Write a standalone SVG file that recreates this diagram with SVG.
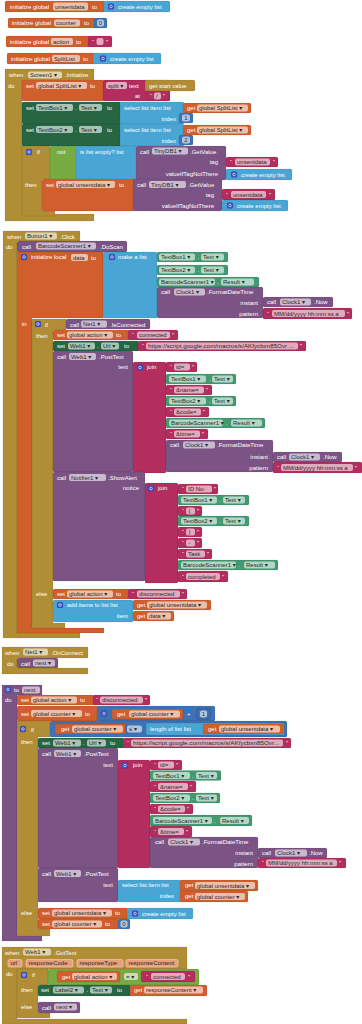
<svg xmlns="http://www.w3.org/2000/svg" xmlns:xlink="http://www.w3.org/1999/xlink" width="362" height="1024" viewBox="0 0 362 1024">
<style>
.o{fill:#D05F2D}.lb{fill:#49A6D4}.m{fill:#B32D5E}.g{fill:#B18E35}.dg{fill:#266643}.gg{fill:#439970}.p{fill:#7C5385}.nb{fill:#3F71B5}.lg{fill:#77AB41}
rect,path{stroke:#000;stroke-opacity:.18;stroke-width:.4}
rect{rx:1.5px}
.f{fill:#fff;fill-opacity:.6;stroke:none;rx:2px}
text{font-family:"Liberation Sans",Arial,"DejaVu Sans",sans-serif;font-size:6px;fill:#fff}
.d{fill:#2a2a2a}
.e{text-anchor:end}
.pp{fill:#E7A07C;stroke:#f6d5c4;stroke-width:.6;stroke-opacity:1}
</style>
<defs>
<g id="gear"><rect width="6" height="6" rx="1" fill="#3d4fc4" stroke="#fff" stroke-width=".6" stroke-opacity="1"/><circle cx="3" cy="3" r="1.3" fill="none" stroke="#fff" stroke-width=".6"/></g>
</defs>

<g id="init-unsentdata">
<rect class="o" x="5" y="1" width="100" height="11"/>
<text x="10" y="8.5">initialize global</text>
<rect class="f" x="53" y="2.5" width="35" height="8"/><text class="d" x="55" y="8.5">unsentdata</text>
<text x="92" y="8.5">to</text>
<rect class="lb" x="104" y="1" width="66" height="11"/>
<use xlink:href="#gear" x="108" y="3.5"/>
<text x="118" y="8.5">create empty list</text>
</g>

<g id="init-counter">
<rect class="o" x="8" y="18" width="88" height="10"/>
<text x="12" y="25.2">initialize global</text>
<rect class="f" x="54" y="19.5" width="26" height="7"/><text class="d" x="56" y="25.2">counter</text>
<text x="84" y="25.2">to</text>
<rect class="nb" x="94" y="18" width="13" height="10"/>
<rect class="f" x="97" y="19.5" width="7" height="7"/><text class="d" x="98.8" y="25.2">0</text>
</g>

<g id="init-action">
<rect class="o" x="6" y="36" width="84" height="11"/>
<text x="10" y="43.5">initialize global</text>
<rect class="f" x="51" y="38" width="22" height="7"/><text class="d" x="53" y="43.5">action</text>
<text x="76" y="43.5">to</text>
<rect class="m" x="88" y="36" width="24" height="11"/>
<text x="92" y="43.5">“</text><rect class="f" x="96.5" y="38" width="7" height="7"/><text x="106" y="43.5">”</text>
</g>

<g id="init-SplitList">
<rect class="o" x="7" y="53" width="88" height="11"/>
<text x="11" y="60.5">initialize global</text>
<rect class="f" x="52" y="55" width="28" height="7"/><text class="d" x="54" y="60.5">SplitList</text>
<text x="83" y="60.5">to</text>
<rect class="lb" x="93" y="53" width="68" height="11"/>
<use xlink:href="#gear" x="100" y="55.5"/>
<text x="110" y="60.5">create empty list</text>
</g>

<g id="screen1-initialize">
<path class="g" d="M5 69H94V81H22V214H94V221H5Z"/>
<text x="9" y="77">when</text>
<rect class="f" x="28" y="71.5" width="34" height="7"/><text class="d" x="30" y="77">Screen1 ▾</text>
<text x="65" y="77">.Initialize</text>
<text x="8" y="88">do</text>
<rect class="o" x="22" y="80" width="82" height="21"/>
<text x="26" y="87.5">set</text>
<rect class="f" x="36" y="82" width="51" height="7"/><text class="d" x="38" y="87.5">global SplitList ▾</text>
<text x="90" y="87.5">to</text>
<rect class="m" x="103" y="80" width="67" height="21"/>
<rect class="f" x="106" y="82" width="21" height="7"/><text class="d" x="108" y="87.5">split ▾</text>
<text x="129" y="87.5">text</text>
<rect class="g" x="145" y="80" width="50" height="11"/>
<text x="149" y="87.5">get start value</text>
<text x="135" y="98">at</text>
<rect class="m" x="147" y="91" width="22" height="9"/>
<text x="150" y="98">“</text><rect class="f" x="154" y="92.5" width="7" height="7"/><text class="d" x="156" y="98">/</text><text x="163" y="98">”</text>

<rect class="dg" x="22" y="102" width="99" height="22"/>
<text x="26" y="109.5">set</text>
<rect class="f" x="36" y="104" width="37" height="7"/><text class="d" x="38" y="109.5">TextBox1 ▾</text>
<text x="75.5" y="109.5">.</text>
<rect class="f" x="79" y="104" width="23" height="7"/><text class="d" x="81" y="109.5">Text ▾</text>
<text x="107" y="109.5">to</text>
<rect class="lb" x="120" y="102" width="64" height="22"/>
<text x="124" y="109.5">select list item  list</text>
<text class="e" x="176" y="120.5">index</text>
<rect class="o" x="183" y="103" width="68" height="10"/>
<text x="187" y="110">get</text>
<rect class="f" x="197" y="104.5" width="51" height="7"/><text class="d" x="199" y="110">global SplitList ▾</text>
<rect class="nb" x="179" y="113" width="14" height="10"/>
<rect class="f" x="182" y="114.5" width="8" height="7"/><text class="d" x="184.3" y="120">1</text>

<rect class="dg" x="22" y="124" width="99" height="22"/>
<text x="26" y="131.5">set</text>
<rect class="f" x="36" y="126" width="37" height="7"/><text class="d" x="38" y="131.5">TextBox2 ▾</text>
<text x="75.5" y="131.5">.</text>
<rect class="f" x="79" y="126" width="23" height="7"/><text class="d" x="81" y="131.5">Text ▾</text>
<text x="107" y="131.5">to</text>
<rect class="lb" x="120" y="124" width="64" height="22"/>
<text x="124" y="131.5">select list item  list</text>
<text class="e" x="176" y="142.5">index</text>
<rect class="o" x="183" y="125" width="68" height="10"/>
<text x="187" y="132">get</text>
<rect class="f" x="197" y="126.5" width="51" height="7"/><text class="d" x="199" y="132">global SplitList ▾</text>
<rect class="nb" x="179" y="135" width="14" height="10"/>
<rect class="f" x="182" y="136.5" width="8" height="7"/><text class="d" x="184.3" y="142">2</text>

<path class="g" d="M22 146H50V179H42V211H55V216H22Z"/>
<use xlink:href="#gear" x="26" y="149"/>
<text x="37" y="153.5">if</text>
<text x="25" y="186.5">then</text>
<rect class="lg" x="50" y="146" width="27" height="34"/>
<text x="57" y="153.5">not</text>
<rect class="lb" x="76" y="146" width="61" height="34"/>
<text x="80" y="153.5">is list empty?  list</text>
<rect class="p" x="136" y="146" width="90" height="34"/>
<text x="140" y="153.5">call</text>
<rect class="f" x="152" y="147.5" width="36" height="7"/><text class="d" x="154" y="153">TinyDB1 ▾</text>
<text x="190" y="153.5">.GetValue</text>
<text class="e" x="218" y="164">tag</text>
<text class="e" x="218" y="175.5">valueIfTagNotThere</text>
<rect class="m" x="226" y="157" width="52" height="10"/>
<text x="230" y="164">“</text><rect class="f" x="235" y="158.5" width="35" height="7"/><text class="d" x="237" y="164">unsentdata</text><text x="273" y="164">”</text>
<rect class="lb" x="226" y="169" width="66" height="11"/>
<use xlink:href="#gear" x="231" y="171.5"/>
<text x="241" y="176.5">create empty list</text>

<rect class="o" x="42" y="179" width="92" height="32"/>
<text x="46" y="186.5">set</text>
<rect class="f" x="56" y="181" width="59" height="7"/><text class="d" x="58" y="186.5">global unsentdata ▾</text>
<text x="119" y="186.5">to</text>
<rect class="p" x="133" y="179" width="89" height="32"/>
<text x="137" y="186.5">call</text>
<rect class="f" x="149" y="181" width="37" height="7"/><text class="d" x="151" y="186.5">TinyDB1 ▾</text>
<text x="188" y="186.5">.GetValue</text>
<text class="e" x="214" y="197">tag</text>
<text class="e" x="214" y="208">valueIfTagNotThere</text>
<rect class="m" x="222" y="189" width="53" height="11"/>
<text x="226" y="196.5">“</text><rect class="f" x="231" y="191" width="35" height="7"/><text class="d" x="233" y="196.5">unsentdata</text><text x="269" y="196.5">”</text>
<rect class="lb" x="222" y="200" width="66" height="11"/>
<use xlink:href="#gear" x="227" y="202.5"/>
<text x="237" y="207.5">create empty list</text>
</g>

<g id="button1-click">
<path class="g" d="M3 231H80V241H17V633H80V638H3Z"/>
<text x="7" y="238.5">when</text>
<rect class="f" x="25" y="232.5" width="32" height="7"/><text class="d" x="27" y="238">Button1 ▾</text>
<text x="60" y="238.5">.Click</text>
<text x="6" y="249">do</text>
<rect class="p" x="17" y="241" width="110" height="11"/>
<text x="22" y="248.5">call</text>
<rect class="f" x="36" y="242.5" width="60" height="7"/><text class="d" x="38" y="248">BarcodeScanner1 ▾</text>
<text x="100" y="248.5">.DoScan</text>

<path class="o" d="M17 252H103V318H32V628H104V633H17Z"/>
<use xlink:href="#gear" x="21" y="254"/>
<text x="31" y="259">initialize local</text>
<rect class="f" x="71" y="254" width="17" height="7"/><text class="d" x="73" y="259.5">data</text>
<text x="91" y="259.5">to</text>
<text x="22" y="326">in</text>
<rect class="lb" x="103" y="252" width="54" height="66"/>
<use xlink:href="#gear" x="109" y="254"/>
<text x="118" y="259">make a list</text>
<rect class="gg" x="157" y="252" width="71" height="10"/>
<rect class="f" x="159" y="253.5" width="36" height="7"/><text class="d" x="161" y="259">TextBox1 ▾</text>
<text x="197.5" y="259">.</text>
<rect class="f" x="201" y="253.5" width="23" height="7"/><text class="d" x="203" y="259">Text ▾</text>
<rect class="gg" x="157" y="265" width="71" height="10"/>
<rect class="f" x="159" y="266.5" width="36" height="7"/><text class="d" x="161" y="272">TextBox2 ▾</text>
<text x="197.5" y="272">.</text>
<rect class="f" x="201" y="266.5" width="23" height="7"/><text class="d" x="203" y="272">Text ▾</text>
<rect class="gg" x="157" y="277" width="102" height="10"/>
<rect class="f" x="159" y="278.5" width="56" height="7"/><text class="d" x="161" y="284">BarcodeScanner1 ▾</text>
<text x="217" y="284">.</text>
<rect class="f" x="221" y="278.5" width="33" height="7"/><text class="d" x="223" y="284">Result ▾</text>
<rect class="p" x="157" y="287" width="106" height="31"/>
<text x="161" y="294">call</text>
<rect class="f" x="174" y="288.5" width="31" height="7"/><text class="d" x="176" y="294">Clock1 ▾</text>
<text x="207" y="294">.FormatDateTime</text>
<text class="e" x="258" y="304.5">instant</text>
<text class="e" x="258" y="315.5">pattern</text>
<rect class="p" x="263" y="297" width="70" height="10"/>
<text x="267" y="304">call</text>
<rect class="f" x="280" y="298.5" width="31" height="7"/><text class="d" x="282" y="304">Clock1 ▾</text>
<text x="314" y="304">.Now</text>
<rect class="m" x="263" y="308" width="89" height="11"/>
<text x="267" y="315.5">“</text><rect class="f" x="272" y="310" width="73" height="7"/><text class="d" x="274" y="315.5">MM/dd/yyyy hh:mm:ss a</text><text x="347" y="315.5">”</text>

<path class="g" d="M32 319H66V330H53V623H65V628H32Z"/>
<use xlink:href="#gear" x="35" y="321"/>
<text x="45" y="327">if</text>
<text x="36" y="337.5">then</text>
<text x="36" y="596">else</text>
<rect class="p" x="66" y="319" width="84" height="10"/>
<text x="70" y="326.5">call</text>
<rect class="f" x="81" y="320.5" width="26" height="7"/><text class="d" x="83" y="326">Net1 ▾</text>
<text x="110" y="326.5">.IsConnected</text>

<rect class="o" x="53" y="330" width="76" height="10"/>
<text x="57" y="337">set</text>
<rect class="f" x="67" y="331.5" width="46" height="7"/><text class="d" x="69" y="337">global action ▾</text>
<text x="116" y="337">to</text>
<rect class="m" x="128" y="330" width="50" height="10"/>
<text x="132" y="337">“</text><rect class="f" x="137" y="331.5" width="33" height="7"/><text class="d" x="139" y="337">connected</text><text x="172" y="337">”</text>

<rect class="dg" x="53" y="341" width="86" height="10"/>
<text x="57" y="348">set</text>
<rect class="f" x="68" y="342.5" width="27" height="7"/><text class="d" x="70" y="348">Web1 ▾</text>
<text x="97" y="348">.</text>
<rect class="f" x="101" y="342.5" width="18" height="7"/><text class="d" x="103" y="348">Url ▾</text>
<text x="124" y="348">to</text>
<rect class="m" x="138" y="341" width="168" height="10"/>
<text x="142" y="348">“</text><rect class="f" x="146" y="342.5" width="152" height="7"/><text class="d" x="148" y="348" textLength="146" lengthAdjust="spacingAndGlyphs">https://script.google.com/macros/s/AKfycbxn85Ovr ...</text><text x="300" y="348">”</text>

<rect class="p" x="53" y="351" width="80" height="121"/>
<text x="57" y="358.5">call</text>
<rect class="f" x="69" y="353" width="27" height="7"/><text class="d" x="71" y="358.5">Web1 ▾</text>
<text x="99" y="358.5">.PostText</text>
<text class="e" x="128" y="369">text</text>
<rect class="m" x="133" y="362" width="33" height="111"/>
<use xlink:href="#gear" x="137" y="364.5"/>
<text x="147" y="369">join</text>
<rect class="m" x="166" y="362" width="31" height="10"/>
<text x="170" y="369">“</text><rect class="f" x="174" y="363.5" width="16" height="7"/><text class="d" x="176" y="369">id=</text><text x="192" y="369">”</text>
<rect class="gg" x="166" y="374" width="70" height="10"/>
<rect class="f" x="169" y="375.5" width="37" height="7"/><text class="d" x="171" y="381">TextBox1 ▾</text>
<text x="208.5" y="381">.</text>
<rect class="f" x="212" y="375.5" width="21" height="7"/><text class="d" x="214" y="381">Text ▾</text>
<rect class="m" x="166" y="385" width="46" height="10"/>
<text x="170" y="392">“</text><rect class="f" x="174" y="386.5" width="30" height="7"/><text class="d" x="176" y="392">&amp;name=</text><text x="206" y="392">”</text>
<rect class="gg" x="166" y="396" width="70" height="10"/>
<rect class="f" x="169" y="397.5" width="37" height="7"/><text class="d" x="171" y="403">TextBox2 ▾</text>
<text x="208.5" y="403">.</text>
<rect class="f" x="212" y="397.5" width="21" height="7"/><text class="d" x="214" y="403">Text ▾</text>
<rect class="m" x="166" y="407" width="43" height="10"/>
<text x="170" y="414">“</text><rect class="f" x="174" y="408.5" width="27" height="7"/><text class="d" x="176" y="414">&amp;code=</text><text x="203" y="414">”</text>
<rect class="gg" x="166" y="418" width="99" height="10"/>
<rect class="f" x="169" y="419.5" width="54" height="7"/><text class="d" x="171" y="425">BarcodeScanner1 ▾</text>
<text x="225.5" y="425">.</text>
<rect class="f" x="231" y="419.5" width="31" height="7"/><text class="d" x="233" y="425">Result ▾</text>
<rect class="m" x="166" y="429" width="42" height="10"/>
<text x="170" y="436">“</text><rect class="f" x="174" y="430.5" width="26" height="7"/><text class="d" x="176" y="436">&amp;time=</text><text x="202" y="436">”</text>
<rect class="p" x="166" y="440" width="107" height="32"/>
<text x="170" y="447">call</text>
<rect class="f" x="183" y="441.5" width="32" height="7"/><text class="d" x="185" y="447">Clock1 ▾</text>
<text x="217" y="447">.FormatDateTime</text>
<text class="e" x="268" y="458.5">instant</text>
<text class="e" x="268" y="469.5">pattern</text>
<rect class="p" x="273" y="452" width="69" height="10"/>
<text x="277" y="459">call</text>
<rect class="f" x="289" y="453.5" width="31" height="7"/><text class="d" x="291" y="459">Clock1 ▾</text>
<text x="323" y="459">.Now</text>
<rect class="m" x="273" y="462" width="89" height="11"/>
<text x="277" y="469.5">“</text><rect class="f" x="281" y="464" width="72" height="7"/><text class="d" x="283" y="469.5">MM/dd/yyyy hh:mm:ss a</text><text x="355" y="469.5">”</text>

<rect class="p" x="53" y="472" width="92" height="109"/>
<text x="57" y="479.5">call</text>
<rect class="f" x="69" y="474" width="37" height="7"/><text class="d" x="71" y="479.5">Notifier1 ▾</text>
<text x="108" y="479.5">.ShowAlert</text>
<text class="e" x="139" y="490">notice</text>
<rect class="m" x="145" y="483" width="33" height="100"/>
<use xlink:href="#gear" x="148" y="485.5"/>
<text x="158" y="490">join</text>
<rect class="m" x="178" y="484" width="40" height="10"/>
<text x="182" y="491">“</text><rect class="f" x="186" y="485.5" width="26" height="7"/><text class="d" x="188" y="491">ID No-</text><text x="214" y="491">”</text>
<rect class="gg" x="178" y="495" width="71" height="10"/>
<rect class="f" x="181" y="496.5" width="36" height="7"/><text class="d" x="183" y="502">TextBox1 ▾</text>
<text x="219.5" y="502">.</text>
<rect class="f" x="223" y="496.5" width="22" height="7"/><text class="d" x="225" y="502">Text ▾</text>
<rect class="m" x="178" y="506" width="24" height="10"/>
<text x="182" y="513">“</text><rect class="f" x="186" y="507.5" width="9" height="7"/><text class="d" x="188.5" y="513">(</text><text x="197" y="513">”</text>
<rect class="gg" x="178" y="516" width="71" height="10"/>
<rect class="f" x="181" y="517.5" width="36" height="7"/><text class="d" x="183" y="523">TextBox2 ▾</text>
<text x="219.5" y="523">.</text>
<rect class="f" x="223" y="517.5" width="22" height="7"/><text class="d" x="225" y="523">Text ▾</text>
<rect class="m" x="178" y="527" width="24" height="10"/>
<text x="182" y="534">“</text><rect class="f" x="186" y="528.5" width="9" height="7"/><text class="d" x="188.5" y="534">)</text><text x="197" y="534">”</text>
<rect class="m" x="178" y="538" width="24" height="10"/>
<text x="182" y="545">“</text><rect class="f" x="186" y="539.5" width="9" height="7"/><text class="d" x="188.5" y="545">-</text><text x="197" y="545">”</text>
<rect class="m" x="178" y="549" width="34" height="10"/>
<text x="182" y="556">“</text><rect class="f" x="186" y="550.5" width="19" height="7"/><text class="d" x="188" y="556">Task</text><text x="207" y="556">”</text>
<rect class="gg" x="178" y="560" width="100" height="10"/>
<rect class="f" x="181" y="561.5" width="55" height="7"/><text class="d" x="183" y="567">BarcodeScanner1 ▾</text>
<text x="238.5" y="567">.</text>
<rect class="f" x="244" y="561.5" width="31" height="7"/><text class="d" x="246" y="567">Result ▾</text>
<rect class="m" x="178" y="571" width="50" height="11"/>
<text x="182" y="578.5">“</text><rect class="f" x="186" y="573" width="34" height="7"/><text class="d" x="188" y="578.5">completed</text><text x="222" y="578.5">”</text>

<rect class="o" x="53" y="589" width="76" height="10"/>
<text x="57" y="596">set</text>
<rect class="f" x="67" y="590.5" width="46" height="7"/><text class="d" x="69" y="596">global action ▾</text>
<text x="116" y="596">to</text>
<rect class="m" x="128" y="589" width="59" height="10"/>
<text x="132" y="596">“</text><rect class="f" x="137" y="590.5" width="43" height="7"/><text class="d" x="139" y="596">disconnected</text><text x="182" y="596">”</text>
<rect class="lb" x="53" y="600" width="80" height="22"/>
<use xlink:href="#gear" x="57" y="602"/>
<text x="67" y="607">add items to list  list</text>
<text class="e" x="128" y="618">item</text>
<rect class="o" x="133" y="600" width="78" height="10"/>
<text x="137" y="607">get</text>
<rect class="f" x="147" y="601.5" width="60" height="7"/><text class="d" x="149" y="607">global unsentdata ▾</text>
<rect class="o" x="133" y="611" width="41" height="10"/>
<text x="137" y="618">get</text>
<rect class="f" x="147" y="612.5" width="24" height="7"/><text class="d" x="149" y="618">data ▾</text>
</g>

<g id="net1-onconnect">
<path class="g" d="M2 647H88V658H17V668H88V674H2Z"/>
<text x="5" y="654.5">when</text>
<rect class="f" x="23" y="648.5" width="25" height="7"/><text class="d" x="25" y="654">Net1 ▾</text>
<text x="51" y="654.5">.OnConnect</text>
<text x="7" y="665.5">do</text>
<rect class="p" x="17" y="658" width="41" height="10"/>
<text x="21" y="665.5">call</text>
<rect class="f" x="33" y="659.5" width="22" height="7"/><text class="d" x="35" y="665">next ▾</text>
</g>

<g id="procedure-next">
<path class="p" d="M2 685H42V695H17V935H42V941H2Z"/>
<use xlink:href="#gear" x="5" y="686.5"/>
<text x="14" y="692">to</text>
<rect class="f" x="22" y="686.5" width="18" height="7"/><text class="d" x="24" y="692">next</text>
<text x="5" y="702">do</text>
<rect class="o" x="17" y="695" width="77" height="10"/>
<text x="21" y="702">set</text>
<rect class="f" x="31" y="696.5" width="46" height="7"/><text class="d" x="33" y="702">global action ▾</text>
<text x="80" y="702">to</text>
<rect class="m" x="93" y="695" width="57" height="10"/>
<text x="96" y="702">“</text><rect class="f" x="100" y="696.5" width="43" height="7"/><text class="d" x="102" y="702">disconnected</text><text x="145" y="702">”</text>
<rect class="o" x="17" y="706" width="81" height="15"/>
<text x="21" y="716">set</text>
<rect class="f" x="31" y="710" width="51" height="7"/><text class="d" x="33" y="715.5">global counter ▾</text>
<text x="85" y="716">to</text>
<rect class="nb" x="97" y="706" width="118" height="15"/>
<use xlink:href="#gear" x="101" y="710.5"/>
<rect class="o" x="112" y="709" width="71" height="10"/>
<text x="117" y="716">get</text>
<rect class="f" x="129" y="710.5" width="51" height="7"/><text class="d" x="131" y="716">global counter ▾</text>
<text x="187" y="716">+</text>
<rect class="nb" x="197" y="709" width="13" height="10" style="stroke-opacity:.5"/>
<rect class="f" x="200" y="710.5" width="7" height="7"/><text class="d" x="201.8" y="716">1</text>

<path class="g" d="M17 721H50V737H38V929H50V936H17Z"/>
<use xlink:href="#gear" x="20" y="726"/>
<text x="31" y="731.5">if</text>
<text x="21" y="744">then</text>
<text x="21" y="915">else</text>
<rect class="nb" x="50" y="721" width="237" height="16"/>
<rect class="o" x="55" y="724" width="70" height="10"/>
<text x="61" y="731">get</text>
<rect class="f" x="72" y="725.5" width="51" height="7"/><text class="d" x="74" y="731">global counter ▾</text>
<rect class="f" x="127" y="725.5" width="15" height="7"/><text class="d" x="129" y="731">≤ ▾</text>
<rect class="lb" x="146" y="723" width="138" height="12"/>
<text x="150" y="731">length of list  list</text>
<rect class="o" x="203" y="724" width="80" height="10"/>
<text x="208" y="731">get</text>
<rect class="f" x="219" y="725.5" width="61" height="7"/><text class="d" x="221" y="731">global unsentdata ▾</text>

<rect class="dg" x="38" y="738" width="86" height="10"/>
<text x="42" y="745">set</text>
<rect class="f" x="53" y="739.5" width="28" height="7"/><text class="d" x="55" y="745">Web1 ▾</text>
<text x="83" y="745">.</text>
<rect class="f" x="87" y="739.5" width="19" height="7"/><text class="d" x="89" y="745">Url ▾</text>
<text x="110" y="745">to</text>
<rect class="m" x="123" y="738" width="168" height="10"/>
<text x="127" y="745">“</text><rect class="f" x="131" y="739.5" width="152" height="7"/><text class="d" x="133" y="745" textLength="146" lengthAdjust="spacingAndGlyphs">https://script.google.com/macros/s/AKfycbxn85Ovr...</text><text x="286" y="745">”</text>

<rect class="p" x="38" y="748" width="80" height="120"/>
<text x="42" y="755.5">call</text>
<rect class="f" x="54" y="750" width="27" height="7"/><text class="d" x="56" y="755.5">Web1 ▾</text>
<text x="84" y="755.5">.PostText</text>
<text class="e" x="113" y="767">text</text>
<rect class="m" x="118" y="760" width="32" height="108"/>
<use xlink:href="#gear" x="122" y="762.5"/>
<text x="133" y="767">join</text>
<rect class="m" x="150" y="760" width="32" height="10"/>
<text x="154" y="767">“</text><rect class="f" x="158" y="761.5" width="16" height="7"/><text class="d" x="160" y="767">id=</text><text x="176" y="767">”</text>
<rect class="gg" x="150" y="770.5" width="71" height="10"/>
<rect class="f" x="153" y="772" width="37" height="7"/><text class="d" x="155" y="777.5">TextBox1 ▾</text>
<text x="192" y="777.5">.</text>
<rect class="f" x="196" y="772" width="21" height="7"/><text class="d" x="198" y="777.5">Text ▾</text>
<rect class="m" x="150" y="781" width="46" height="11"/>
<text x="154" y="788.5">“</text><rect class="f" x="158" y="783" width="30" height="7"/><text class="d" x="160" y="788.5">&amp;name=</text><text x="190" y="788.5">”</text>
<rect class="gg" x="150" y="793" width="70" height="10"/>
<rect class="f" x="153" y="794.5" width="37" height="7"/><text class="d" x="155" y="800">TextBox2 ▾</text>
<text x="192" y="800">.</text>
<rect class="f" x="196" y="794.5" width="21" height="7"/><text class="d" x="198" y="800">Text ▾</text>
<rect class="m" x="150" y="804" width="43" height="10"/>
<text x="154" y="811">“</text><rect class="f" x="158" y="805.5" width="27" height="7"/><text class="d" x="160" y="811">&amp;code=</text><text x="187" y="811">”</text>
<rect class="gg" x="150" y="815" width="102" height="11"/>
<rect class="f" x="153" y="817" width="59" height="7"/><text class="d" x="155" y="822.5">BarcodeScanner1 ▾</text>
<text x="214" y="822.5">.</text>
<rect class="f" x="220" y="817" width="29" height="7"/><text class="d" x="222" y="822.5">Result ▾</text>
<rect class="m" x="150" y="826" width="42" height="11"/>
<text x="154" y="833.5">“</text><rect class="f" x="158" y="828" width="26" height="7"/><text class="d" x="160" y="833.5">&amp;time=</text><text x="186" y="833.5">”</text>
<rect class="p" x="150" y="837" width="108" height="31"/>
<text x="155" y="844">call</text>
<rect class="f" x="168" y="838.5" width="32" height="7"/><text class="d" x="170" y="844">Clock1 ▾</text>
<text x="202" y="844">.FormatDateTime</text>
<text class="e" x="253" y="855">instant</text>
<text class="e" x="253" y="865.5">pattern</text>
<rect class="p" x="258" y="848" width="69" height="10"/>
<text x="262" y="855">call</text>
<rect class="f" x="275" y="849.5" width="32" height="7"/><text class="d" x="277" y="855">Clock1 ▾</text>
<text x="309" y="855">.Now</text>
<rect class="m" x="258" y="858" width="88" height="10"/>
<text x="262" y="865">“</text><rect class="f" x="266" y="859.5" width="71" height="7"/><text class="d" x="268" y="865">MM/dd/yyyy hh:mm:ss a</text><text x="339" y="865">”</text>

<rect class="p" x="38" y="868" width="80" height="34"/>
<text x="42" y="875.5">call</text>
<rect class="f" x="54" y="870" width="27" height="7"/><text class="d" x="56" y="875.5">Web1 ▾</text>
<text x="84" y="875.5">.PostText</text>
<text class="e" x="113" y="887">text</text>
<rect class="lb" x="118" y="880" width="63" height="22"/>
<text x="122" y="887">select list item  list</text>
<text class="e" x="174" y="898">index</text>
<rect class="o" x="180" y="880" width="78" height="11"/>
<text x="185" y="887">get</text>
<rect class="f" x="195" y="882" width="60" height="7"/><text class="d" x="197" y="887.5">global unsentdata ▾</text>
<rect class="o" x="180" y="891" width="68" height="11"/>
<text x="185" y="898">get</text>
<rect class="f" x="195" y="893" width="50" height="7"/><text class="d" x="197" y="898.5">global counter ▾</text>

<rect class="o" x="38" y="908" width="90" height="11"/>
<text x="42" y="915">set</text>
<rect class="f" x="52" y="909.5" width="60" height="7"/><text class="d" x="54" y="915">global unsentdata ▾</text>
<text x="115" y="915">to</text>
<rect class="lb" x="127" y="908" width="66" height="11"/>
<use xlink:href="#gear" x="132" y="910.5"/>
<text x="142" y="915.5">create empty list</text>
<rect class="o" x="38" y="919" width="81" height="10"/>
<text x="42" y="926">set</text>
<rect class="f" x="52" y="920.5" width="50" height="7"/><text class="d" x="54" y="926">global counter ▾</text>
<text x="105" y="926">to</text>
<rect class="nb" x="118" y="919" width="12" height="10"/>
<rect class="f" x="120.5" y="920.5" width="7" height="7"/><text class="d" x="122.3" y="926">0</text>
</g>

<g id="web1-gottext">
<path class="g" d="M2 947H187V969H17V1019H187V1024H2Z"/>
<text x="5" y="954.5">when</text>
<rect class="f" x="23" y="948.5" width="28" height="7"/><text class="d" x="25" y="954">Web1 ▾</text>
<text x="54" y="954.5">.GotText</text>
<rect class="pp" x="8" y="959.5" width="14" height="7.5"/><text class="d" x="10.5" y="965.3">url</text>
<rect class="pp" x="26" y="959.5" width="47" height="7.5"/><text class="d" x="28.5" y="965.3">responseCode</text>
<rect class="pp" x="77" y="959.5" width="46" height="7.5"/><text class="d" x="79.5" y="965.3">responseType</text>
<rect class="pp" x="126" y="959.5" width="52" height="7.5"/><text class="d" x="128.5" y="965.3">responseContent</text>
<text x="6" y="976">do</text>
<path class="g" d="M17 969H48V985H38V1013H50V1018H17Z"/>
<use xlink:href="#gear" x="21" y="972"/>
<text x="32" y="977">if</text>
<text x="21" y="992">then</text>
<text x="21" y="1009">else</text>
<rect class="lg" x="48" y="969" width="151" height="16"/>
<rect class="o" x="57" y="971" width="63" height="11"/>
<text x="62" y="978.5">get</text>
<rect class="f" x="72" y="973" width="45" height="7"/><text class="d" x="74" y="978.5">global action ▾</text>
<rect class="f" x="124" y="973" width="14" height="7"/><text class="d" x="126" y="978.5">= ▾</text>
<rect class="m" x="141" y="971" width="54" height="11"/>
<text x="146" y="978.5">“</text><rect class="f" x="151" y="973" width="34" height="7"/><text class="d" x="153" y="978.5">connected</text><text x="188" y="978.5">”</text>
<rect class="dg" x="38" y="985" width="93" height="11"/>
<text x="41" y="992">set</text>
<rect class="f" x="53" y="986.5" width="31" height="7"/><text class="d" x="55" y="992">Label2 ▾</text>
<text x="86.5" y="992">.</text>
<rect class="f" x="90" y="986.5" width="22" height="7"/><text class="d" x="92" y="992">Text ▾</text>
<text x="117" y="992">to</text>
<rect class="o" x="130" y="985" width="77" height="11"/>
<text x="134" y="992">get</text>
<rect class="f" x="144" y="986.5" width="59" height="7"/><text class="d" x="146" y="992">responseContent ▾</text>
<rect class="p" x="38" y="1002" width="42" height="11"/>
<text x="42" y="1009.5">call</text>
<rect class="f" x="54" y="1003.5" width="23" height="7"/><text class="d" x="56" y="1009">next ▾</text>
</g>
</svg>
